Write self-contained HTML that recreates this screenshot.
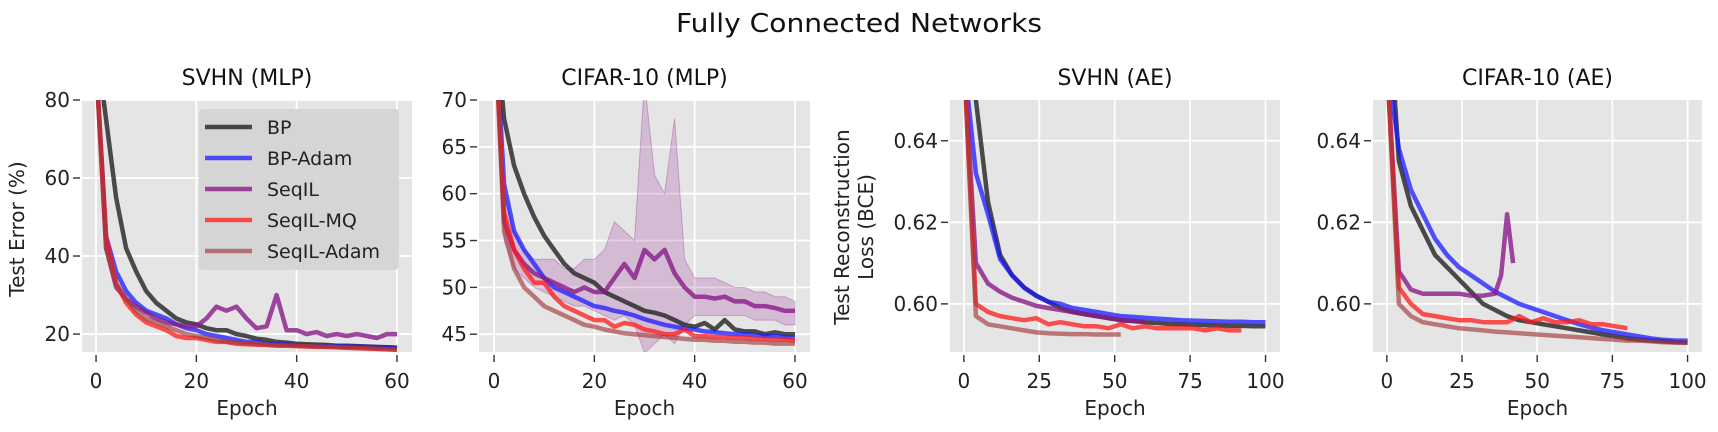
<!DOCTYPE html>
<html><head><meta charset="utf-8">
<style>
body{margin:0;background:#fff;}
svg{display:block;font-family:"DejaVu Sans","Liberation Sans",sans-serif;}
</style></head>
<body>
<svg id="fig" width="1718" height="432" viewBox="0 0 1718 432">
<text x="859" y="32" font-size="26" text-anchor="middle" textLength="366" lengthAdjust="spacingAndGlyphs" fill="#111">Fully Connected Networks</text>
</svg>
<script>
// ---------- data ----------
const seriesNames = ["BP","BP-Adam","SeqIL","SeqIL-MQ","SeqIL-Adam"];
const mlpEpochs = [0,2,4,6,8,10,12,14,16,18,20,22,24,26,28,30,32,34,36,38,40,42,44,46,48,50,52,54,56,58,60];
const p1_bp    = [95,75,55,42,36,31,28,26,24,23,22.5,21.5,21,21,20,19.5,18.8,18.5,18,17.8,17.5,17.4,17.3,17.2,17,17,16.9,16.8,16.7,16.6,16.5];
const p1_bpadam= [90,45,36,31,28,26,25,24,22.5,21.5,21,20,19.5,19,18.5,18,18,17.5,17.4,17.3,17.2,17.1,17,17,16.9,16.8,16.8,16.7,16.6,16.6,16.5];
const p1_seqil = [90,42,32,29,27,25.5,24,23,22.5,22,22,24,27,26,27,24,21.5,22,30,21,21,20,20.5,19.5,20,19.5,20,19.5,19,20,20];
const p1_mq    = [90,45,33,28,25,23,22,21,19.5,19,19,18.5,18,18,17.5,17.4,17.3,17.2,17,17,16.9,16.8,16.7,16.7,16.6,16.5,16.4,16.3,16.2,16.1,16];
const p1_adam  = [90,42,33,29,26,24,23,22,21,20,19.5,19,18.5,18,17.8,17.6,17.4,17.3,17.2,17.1,17,16.9,16.8,16.7,16.6,16.5,16.4,16.3,16.2,16.1,16];
const p2_bp    = [80,68,63,60,57.5,55.5,54,52.5,51.5,51,50.5,49.5,49,48.5,48,47.5,47.3,47,46.5,46,45.8,46.2,45.5,46.5,45.5,45.3,45.3,45,45.2,45,45];
const p2_bpadam= [80,61,56,54,52.5,51,50,49.5,49,48.5,48,47.8,47.5,47.3,47,46.6,46.3,46,45.8,45.6,45.5,45.3,45.2,45.1,45,45,44.9,44.8,44.8,44.7,44.6];
const p2_seqil = [80,57,54,52.5,51.5,51,50.5,50,49.5,50,49.5,49.5,51,52.5,51,54,53,54,51.5,50,49,49,48.8,49,48.5,48.5,48,48,47.8,47.5,47.5];
const p2_seqil_hi=[80,60,56,54,53,53,53,52,52,53,53,54,57,56,55,72,62,60,68,53,51,51,51,50.5,50,50,49.5,49.5,49,49,48.5];
const p2_seqil_lo=[80,55,52,51,50,49.5,49,48.5,48,48,47.5,47,46.5,47,46,43,44,45,44,46,47,47,47,47,47,47,46.5,46.5,46.5,46,46];
const p2_mq    = [80,58,54,52,50.5,50.5,49,48,47.5,47,46.5,46.5,45.8,46.2,46,45.5,45.3,45,45,45.5,44.8,44.8,44.7,44.7,44.6,44.6,44.5,44.5,44.4,44.4,44.3];
const p2_adam  = [80,56,52,50,49,48,47.5,47,46.5,46,45.8,45.5,45.3,45.1,45,44.9,44.8,44.7,44.6,44.5,44.4,44.4,44.3,44.3,44.2,44.2,44.1,44.1,44,44,44];
const aeEpochs = [0,4,8,12,16,20,24,28,32,36,40,44,48,52,56,60,64,68,72,76,80,84,88,92,96,100];
const p3_bp    = [0.70,0.65,0.625,0.612,0.607,0.604,0.602,0.6005,0.599,0.598,0.5975,0.597,0.5965,0.596,0.5958,0.5955,0.5953,0.5951,0.595,0.5949,0.5948,0.5947,0.5946,0.5946,0.5945,0.5945];
const p3_bpadam= [0.66,0.632,0.622,0.611,0.607,0.604,0.602,0.6005,0.600,0.599,0.5985,0.598,0.5975,0.597,0.5968,0.5966,0.5964,0.5962,0.596,0.5959,0.5958,0.5957,0.5956,0.5956,0.5955,0.5955];
const p3_seqil = [0.66,0.610,0.605,0.603,0.6015,0.6005,0.5995,0.599,0.5985,0.598,0.5975,0.597,0.5965,0.596,0.5958,0.5956,null,null,null,null,null,null,null,null,null,null];
const p3_mq    = [0.66,0.600,0.598,0.597,0.5965,0.596,0.5965,0.595,0.5955,0.595,0.5945,0.5945,0.594,0.595,0.594,0.5945,0.594,0.594,0.594,0.594,0.5935,0.594,0.5935,0.5935,null,null];
const p3_adam  = [0.66,0.597,0.595,0.5945,0.594,0.5935,0.593,0.5928,0.5927,0.5926,0.5926,0.5925,0.5925,0.5925,null,null,null,null,null,null,null,null,null,null,null,null];
const p4_bp    = [0.68,0.635,0.624,0.618,0.612,0.609,0.606,0.603,0.600,0.5985,0.597,0.596,0.5955,0.595,0.5945,0.594,0.5935,0.593,0.5925,0.592,0.5915,0.5912,0.591,0.5908,0.5906,0.5905];
const p4_bpadam= [0.66,0.638,0.628,0.622,0.616,0.612,0.609,0.607,0.605,0.603,0.6015,0.600,0.599,0.598,0.597,0.596,0.595,0.5942,0.5935,0.593,0.5925,0.592,0.5915,0.5912,0.591,0.591];
const p4_seqil_x = [0,4,8,12,16,20,24,28,32,36,38,40,42];
const p4_seqil   = [0.66,0.608,0.6035,0.6025,0.6025,0.6025,0.6025,0.602,0.602,0.6025,0.607,0.622,0.610];
const p4_mq    = [0.66,0.604,0.600,0.5975,0.597,0.5965,0.596,0.596,0.5955,0.5955,0.5955,0.597,0.5955,0.5965,0.5955,0.5955,0.596,0.595,0.595,0.5945,0.594,null,null,null,null,null];
const p4_adam  = [0.66,0.600,0.597,0.5955,0.595,0.5945,0.594,0.5938,0.5935,0.5932,0.593,0.5928,0.5926,0.5924,0.5922,0.592,0.5918,0.5916,0.5914,0.5912,0.591,0.591,0.5908,0.5906,0.5905,0.5905];
const p1_yticks = [20,40,60,80];
const p2_yticks = [45,50,55,60,65,70];
const ae_yticks = [0.60,0.62,0.64];
const mlp_xticks = [0,20,40,60];
const ae_xticks = [0,25,50,75,100];

// ---------- drawing ----------
const NS="http://www.w3.org/2000/svg";
const svg=document.getElementById('fig');
const colors=["#222222","#1a1aff","#8a1a8a","#ff1a1a","#a33a3a"];
const alphas=[0.8,0.75,0.8,0.75,0.65];
function mk(tag,attrs,parent){const e=document.createElementNS(NS,tag);for(const k in attrs)e.setAttribute(k,attrs[k]);(parent||svg).appendChild(e);return e;}
let clipN=0;
function panel(o){
  const g=mk('g',{});
  
  
  const L=o.L,R=o.R,T=100,B=352;
  const sx=v=>L+(v-o.xmin)/(o.xmax-o.xmin)*(R-L);
  const sy=v=>B-(v-o.ymin)/(o.ymax-o.ymin)*(B-T);
  const bg=mk('rect',{x:L,y:T,width:R-L,height:B-T,fill:'#e5e5e5'},g);
  
  
  o.xticks.forEach(t=>{
    mk('line',{x1:sx(t),x2:sx(t),y1:T,y2:B,stroke:'#fff','stroke-width':1.8},g);
    mk('line',{x1:sx(t),x2:sx(t),y1:B+3,y2:B+10,stroke:'#333','stroke-width':1.4},g);
    const tx=mk('text',{x:sx(t),y:B+36,'font-size':20,'text-anchor':'middle',fill:'#222'},g);
    tx.textContent=t;
    
    
  });
  o.yticks.forEach(t=>{
    mk('line',{x1:L,x2:R,y1:sy(t),y2:sy(t),stroke:'#fff','stroke-width':1.8},g);
    mk('line',{x1:L-9,x2:L-2,y1:sy(t),y2:sy(t),stroke:'#333','stroke-width':1.4},g);
    const tx=mk('text',{x:L-12,y:sy(t)+7,'font-size':20,'text-anchor':'end',fill:'#222'},g);
    tx.textContent=o.fmt?o.fmt(t):t;
    
    
  });
  const cid='c'+(clipN++);
  const cp=mk('clipPath',{id:cid},g);mk('rect',{x:L,y:T,width:R-L,height:B-T},cp);
  const dg=mk('g',{'clip-path':'url(#'+cid+')'},g);
  if(o.band){
    let d='';const b=o.band;
    b.x.forEach((x,i)=>{d+=(i?'L':'M')+sx(x)+','+sy(b.hi[i]);});
    for(let i=b.x.length-1;i>=0;i--)d+='L'+sx(b.x[i])+','+sy(b.lo[i]);
    const p=mk('path',{d:d+'Z',fill:'#8a1a8a','fill-opacity':0.2,stroke:'#8a1a8a','stroke-opacity':0.3},dg);
    
    
  }
  o.series.forEach(s=>{
    let d='',started=false;
    s.y.forEach((v,i)=>{if(v==null)return;d+=(started?'L':'M')+sx(s.x[i]).toFixed(1)+','+sy(v).toFixed(1);started=true;});
    const p=mk('path',{d:d,fill:'none',stroke:colors[s.k],'stroke-opacity':alphas[s.k],'stroke-width':4.5,'stroke-linejoin':'round'},dg);
    
    
  });
  const tt=mk('text',{x:(L+R)/2,y:85,'font-size':22,'text-anchor':'middle',fill:'#111'},g);
  tt.textContent=o.title;
  
  
  const xl=mk('text',{x:(L+R)/2,y:415,'font-size':20,'text-anchor':'middle',fill:'#222'},g);
  xl.textContent='Epoch';
  
  
  return g;
}
const mk5=(x,a)=>a.map((y,k)=>({x:x,y:y,k:k}));
panel({name:'panel-svhn-mlp',title:'SVHN (MLP)',L:82,R:412,xmin:-2.8,xmax:63,ymin:15.4,ymax:80,xticks:mlp_xticks,yticks:p1_yticks,
  series:mk5(mlpEpochs,[p1_bp,p1_bpadam,p1_seqil,p1_mq,p1_adam])});
panel({name:'panel-cifar-mlp',title:'CIFAR-10 (MLP)',L:479,R:810,xmin:-3,xmax:63,ymin:43.1,ymax:70,xticks:mlp_xticks,yticks:p2_yticks,
  band:{x:mlpEpochs,hi:p2_seqil_hi,lo:p2_seqil_lo},
  series:mk5(mlpEpochs,[p2_bp,p2_bpadam,p2_seqil,p2_mq,p2_adam])});
const f2=v=>v.toFixed(2);
panel({name:'panel-svhn-ae',title:'SVHN (AE)',L:950,R:1280,xmin:-4.6,xmax:104.8,ymin:0.5882,ymax:0.650,xticks:ae_xticks,yticks:ae_yticks,fmt:f2,
  series:mk5(aeEpochs,[p3_bp,p3_bpadam,p3_seqil,p3_mq,p3_adam])});
panel({name:'panel-cifar-ae',title:'CIFAR-10 (AE)',L:1373,R:1702,xmin:-4.6,xmax:104.8,ymin:0.5882,ymax:0.650,xticks:ae_xticks,yticks:ae_yticks,fmt:f2,
  series:[{x:aeEpochs,y:p4_bp,k:0},{x:aeEpochs,y:p4_bpadam,k:1},{x:p4_seqil_x,y:p4_seqil,k:2},{x:aeEpochs,y:p4_mq,k:3},{x:aeEpochs,y:p4_adam,k:4}]});

// y-axis titles
const y1=mk('text',{x:0,y:0,'font-size':20,'text-anchor':'middle',fill:'#222',transform:'translate(24,229) rotate(-90)'});
y1.textContent='Test Error (%)';


const y3=mk('text',{x:0,y:0,'font-size':20,'text-anchor':'middle',fill:'#222',transform:'translate(849,227) rotate(-90)'});
y3.textContent='Test Reconstruction';


const y3b=mk('text',{x:0,y:0,'font-size':20,'text-anchor':'middle',fill:'#222',transform:'translate(873,227) rotate(-90)'});
y3b.textContent='Loss (BCE)';



// legend
const lg=mk('g',{});


mk('rect',{x:199,y:109,width:200,height:161,rx:4,fill:'#d3d3d3','fill-opacity':0.9},lg);
seriesNames.forEach((n,i)=>{
  const yy=127+i*31;
  const ln=mk('line',{x1:205,x2:252,y1:yy,y2:yy,stroke:colors[i],'stroke-opacity':alphas[i],'stroke-width':4.5},lg);
  
  
  const t=mk('text',{x:267,y:yy+7,'font-size':19,fill:'#222'},lg);
  t.textContent=n;
  
  
});
</script>
</body></html>
